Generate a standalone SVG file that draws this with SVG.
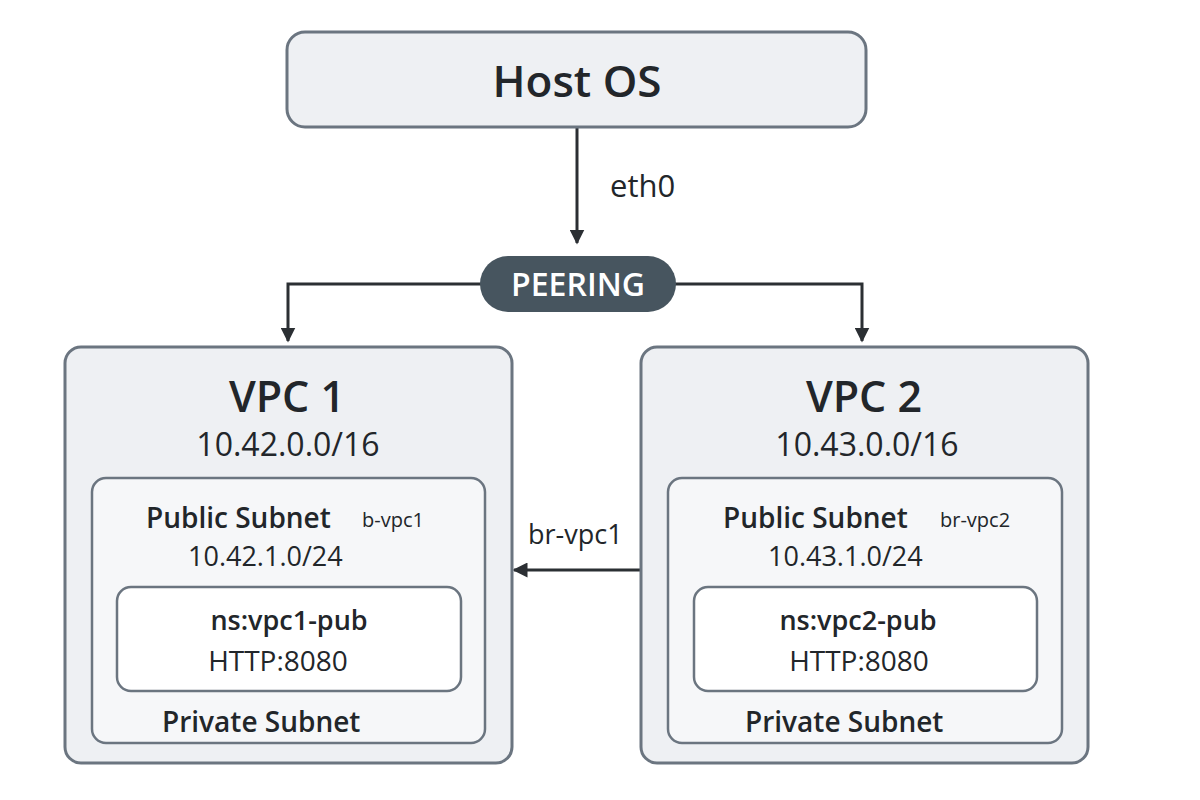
<svg xmlns="http://www.w3.org/2000/svg" width="1200" height="800" viewBox="0 0 1200 800">
<defs>
<marker id="ah" viewBox="0 0 10 10" refX="9" refY="5" markerWidth="5" markerHeight="5" orient="auto"><path d="M0,0 L10,5 L0,10 Z" fill="#2b2f33"/></marker>
<style>
text{font-family:"Open Sans","Noto Sans",sans-serif;fill:#22262a}
.box{fill:#eef0f3;stroke:#6b7580;stroke-width:3}
.sub{fill:#f6f7f9;stroke:#6b7580;stroke-width:2.5}
.ns{fill:#ffffff;stroke:#6b7580;stroke-width:2.5}
.b{font-weight:600}
.c{text-anchor:middle}
.ln{fill:none;stroke:#2b2f33;stroke-width:3;marker-end:url(#ah)}
</style>
</defs>
<rect width="1200" height="800" fill="#ffffff"/>
<g id="connectors">
<path class="ln" d="M577,127 V243"/>
<path class="ln" d="M482,284 H288 V341"/>
<path class="ln" d="M674,284 H862 V341"/>
<path class="ln" d="M641,570 H514"/>
<text x="610" y="197" font-size="31">eth0</text>
<text x="528" y="544" font-size="27">br-vpc1</text>
</g>
<g id="host">
<rect class="box" x="287" y="32" width="579" height="95" rx="18"/>
<text class="b c" x="577" y="97" font-size="44">Host OS</text>
</g>
<g id="peering">
<rect x="480" y="256" width="196" height="56" rx="28" fill="#47555f"/>
<text class="b c" x="578" y="296" font-size="32" style="fill:#ffffff">PEERING</text>
</g>
<g id="vpc1">
<rect class="box" x="65" y="347" width="447" height="416" rx="16"/>
<text class="b c" x="287" y="412" font-size="43">VPC 1</text>
<text class="c" x="288" y="456" font-size="32">10.42.0.0/16</text>
<rect class="sub" x="92" y="478" width="393" height="265" rx="14"/>
<text class="b" x="146" y="528" font-size="28">Public Subnet</text>
<text x="362" y="527" font-size="20">b-vpc1</text>
<text x="188" y="566" font-size="27">10.42.1.0/24</text>
<rect class="ns" x="117" y="587" width="344" height="104" rx="14"/>
<text class="b c" x="289" y="630" font-size="27">ns:vpc1-pub</text>
<text class="c" x="278" y="671" font-size="28">HTTP:8080</text>
<text class="b" x="162" y="732" font-size="28">Private Subnet</text>
</g>
<g id="vpc2">
<rect class="box" x="641" y="347" width="447" height="416" rx="16"/>
<text class="b c" x="864" y="412" font-size="43">VPC 2</text>
<text class="c" x="867" y="456" font-size="32">10.43.0.0/16</text>
<rect class="sub" x="668" y="478" width="394" height="265" rx="14"/>
<text class="b" x="723" y="528" font-size="28">Public Subnet</text>
<text x="940" y="527" font-size="20">br-vpc2</text>
<text x="768" y="566" font-size="27">10.43.1.0/24</text>
<rect class="ns" x="694" y="587" width="343" height="104" rx="14"/>
<text class="b c" x="858" y="630" font-size="27">ns:vpc2-pub</text>
<text class="c" x="859" y="671" font-size="28">HTTP:8080</text>
<text class="b" x="745" y="732" font-size="28">Private Subnet</text>
</g>
</svg>
